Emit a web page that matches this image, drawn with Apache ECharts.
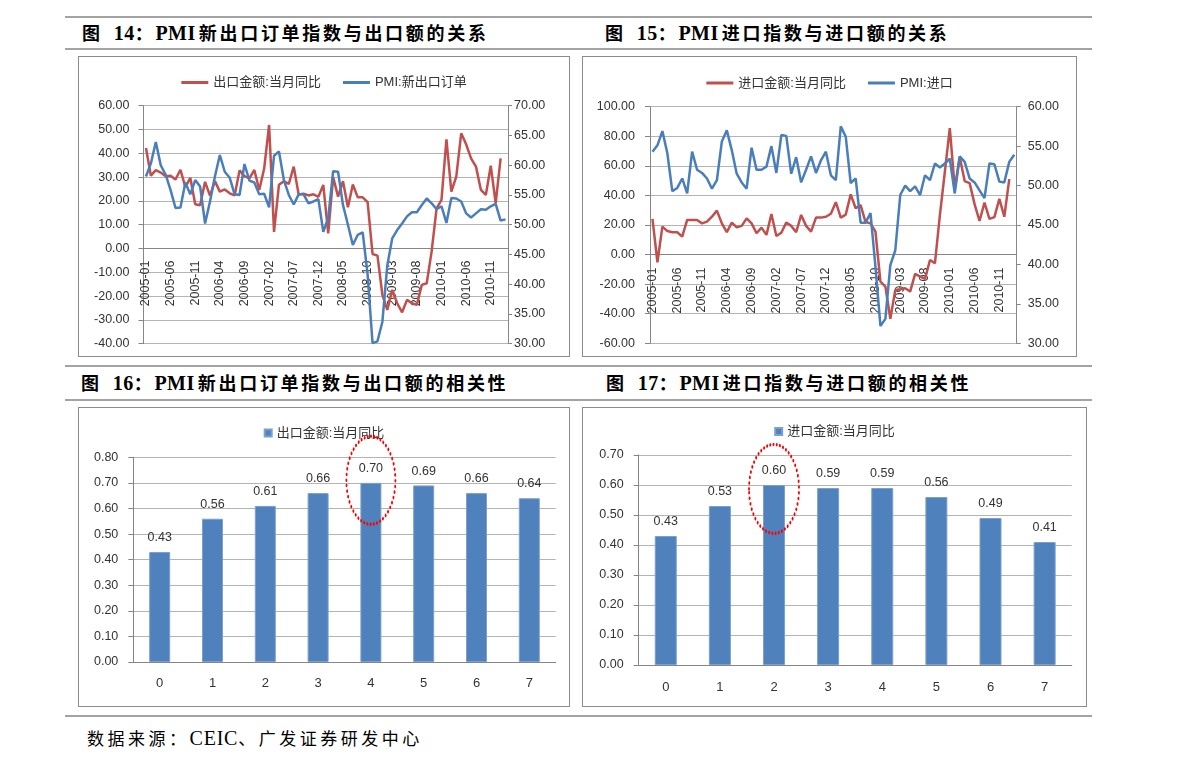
<!DOCTYPE html>
<html>
<head>
<meta charset="utf-8">
<title>PMI与进出口</title>
<script src="https://cdn.jsdelivr.net/npm/echarts@6.0.0/dist/echarts.min.js"></script>
<style>
body{margin:0;background:#fff;width:1191px;height:766px;position:relative;overflow:hidden;}
.hr{position:absolute;left:65px;width:1027px;height:2px;background:#a3a3a3;}
.ttl{position:absolute;font-weight:bold;font-family:'Liberation Serif','Noto Sans CJK SC',serif;line-height:22px;color:#000;white-space:nowrap;}
.ttl .cn{font-size:18px;letter-spacing:2.7px;}
.ttl .lt{font-size:20px;letter-spacing:0.5px;}
.ttl .gap{margin-left:3px;}
.src{position:absolute;left:87px;top:727px;font-family:'Liberation Serif','Noto Sans CJK SC',serif;line-height:22px;color:#000;white-space:nowrap;}
.src .cn{font-size:17px;letter-spacing:3.5px;}
.src .lt{font-size:20px;letter-spacing:0.8px;}
.box{position:absolute;border:1px solid #8c8c8c;}
</style>
</head>
<body>
<div class="hr" style="top:16px"></div>
<div class="ttl" style="left:82px;top:22px"><span class="cn">图</span><span class="lt">&nbsp; 14</span><span class="cn">：</span><span class="lt">PMI</span><span class="cn gap">新出口订单指数与出口额的关系</span></div>
<div class="ttl" style="left:605px;top:22px"><span class="cn">图</span><span class="lt">&nbsp; 15</span><span class="cn">：</span><span class="lt">PMI</span><span class="cn gap">进口指数与进口额的关系</span></div>
<div class="hr" style="top:48px"></div>
<div id="c14" class="box" style="left:78px;top:56px;width:490px;height:299px"></div>
<div id="c15" class="box" style="left:582px;top:56px;width:493px;height:299px"></div>
<div class="hr" style="top:365px"></div>
<div class="ttl" style="left:81px;top:372px"><span class="cn">图</span><span class="lt">&nbsp; 16</span><span class="cn">：</span><span class="lt">PMI</span><span class="cn gap">新出口订单指数与出口额的相关性</span></div>
<div class="ttl" style="left:606px;top:372px"><span class="cn">图</span><span class="lt">&nbsp; 17</span><span class="cn">：</span><span class="lt">PMI</span><span class="cn gap">进口指数与进口额的相关性</span></div>
<div class="hr" style="top:399px"></div>
<div id="c16" class="box" style="left:78px;top:407px;width:490px;height:298px"></div>
<div id="c17" class="box" style="left:582px;top:407px;width:503px;height:298px"></div>
<div class="hr" style="top:715px"></div>
<div class="src"><span class="cn">数据来源：</span><span class="lt">CEIC</span><span class="cn">、广发证券研发中心</span></div>

<script>
var FONT = "'Liberation Sans','Noto Sans CJK SC',sans-serif";

// 月份 2005-01 ~ 2011-02
var months = [];
for (var y = 2005; y <= 2011; y++) {
	for (var m = 1; m <= 12; m++) {
		if (y == 2011 && m > 2) break;
		months.push(y + '-' + (m < 10 ? '0' + m : m));
	}
}

// 图14 出口金额当月同比(左轴) / PMI新出口订单(右轴)
var exportYoy = [42.2, 30.6, 32.9, 31.9, 30.4, 30.6, 29.0, 33.1, 25.8, 29.7, 18.6, 18.2,
	28.0, 22.2, 28.3, 23.9, 24.8, 23.2, 22.3, 32.8, 30.4, 29.5, 33.0, 24.6,
	33.6, 51.9, 7.0, 26.8, 28.3, 27.1, 34.4, 22.7, 23.0, 22.3, 22.8, 21.7,
	26.7, 6.4, 30.0, 21.8, 28.3, 17.3, 26.9, 21.5, 21.5, 19.5, -2.3, -3.0,
	-19.5, -25.8, -17.4, -23.0, -26.8, -21.6, -23.0, -23.7, -15.3, -14.6, -1.2, 16.9,
	20.4, 45.9, 23.9, 30.2, 48.4, 43.8, 37.9, 34.4, 24.6, 22.5, 34.8, 19.0,
	37.9, null];
var pmiNewExport = [58.1, 60.3, 63.9, 60.0, 58.4, 55.8, 52.8, 52.9, 57.1, 55.1, 57.5, 56.4,
	50.2, 53.9, 58.1, 61.7, 58.9, 57.9, 55.1, 55.0, 60.2, 57.4, 57.1, 55.1,
	55.2, 52.9, 61.6, 62.3, 57.5, 55.0, 53.4, 55.1, 55.1, 53.6, 53.9, 54.3,
	48.8, 51.1, 59.0, 58.9, 53.3, 50.0, 46.6, 48.3, 48.7, 41.6, 30.1, 30.4,
	33.7, 43.2, 47.7, 49.1, 50.2, 51.4, 52.1, 52.1, 53.3, 54.4, 53.6, 52.6,
	53.1, 50.3, 54.5, 54.4, 53.9, 51.9, 51.2, 51.9, 52.6, 52.5, 53.1, 53.5,
	50.7, 50.9];

// 图15 进口金额当月同比(左轴) / PMI进口(右轴)
var importYoy = [24.1, -5.2, 18.9, 15.9, 15.1, 15.1, 12.1, 23.4, 23.4, 23.4, 21.1, 22.3,
	25.6, 29.7, 21.1, 15.1, 21.6, 18.5, 19.4, 24.5, 21.1, 14.4, 18.2, 13.3,
	27.4, 12.6, 14.8, 21.6, 19.4, 15.1, 26.8, 19.4, 15.5, 25.0, 25.0, 25.6,
	27.6, 35.4, 25.0, 27.0, 40.7, 31.3, 33.5, 22.0, 21.1, 15.5, -18.3, -21.6,
	-43.5, -23.9, -23.4, -22.8, -25.0, -13.1, -14.9, -16.5, -3.7, -5.9, 26.7, 55.9,
	85.5, 44.7, 66.0, 49.7, 48.3, 34.1, 22.7, 35.2, 24.1, 25.3, 37.7, 25.6,
	51.0, null];
var pmiImport = [54.3, 55.1, 56.9, 54.1, 49.3, 49.7, 50.9, 49.0, 54.3, 52.0, 51.6, 50.9,
	49.6, 50.7, 55.6, 57.0, 54.5, 51.5, 50.4, 49.6, 54.8, 52.0, 52.0, 52.4,
	55.0, 51.6, 56.4, 56.3, 51.5, 53.6, 50.4, 52.0, 53.7, 51.6, 53.2, 54.3,
	51.3, 50.7, 57.5, 56.2, 50.3, 50.9, 45.3, 45.3, 46.5, 39.7, 32.2, 33.1,
	39.9, 41.8, 48.8, 50.0, 49.3, 49.9, 48.8, 51.3, 50.7, 52.8, 52.3, 52.8,
	53.4, 49.0, 53.7, 53.0, 50.9, 50.4, 49.4, 48.4, 52.8, 52.7, 50.5, 50.4,
	53.0, 53.9];

// 图16/17 相关系数，滞后月数 0~7
var lags = ['0', '1', '2', '3', '4', '5', '6', '7'];
var corrExport = [0.43, 0.56, 0.61, 0.66, 0.70, 0.69, 0.66, 0.64];
var corrImport = [0.43, 0.53, 0.60, 0.59, 0.59, 0.56, 0.49, 0.41];

var AXIS = '#868686', GRID = '#b4b4b4', TXT = '#333';
var ELLIPSE = 'path://M0,1C0,0.448 0.448,0 1,0C1.552,0 2,0.448 2,1C2,1.552 1.552,2 1,2C0.448,2 0,1.552 0,1Z';

function fmt2(v){ return v.toFixed(2); }

function lineAll(id, names, redData, blueData, yl, yr, lay){
	var chart = echarts.init(document.getElementById(id));
	// x轴放在左轴0的位置（用offset，onZero时标签不显示）
	var zeroOffset = -lay.height * (0 - yl[0]) / (yl[1] - yl[0]);
	var option = {
		animation: false,
		textStyle: {fontFamily: FONT},
		legend: {top: lay.legendTop, left: 'center', icon: 'rect', itemWidth: 27, itemHeight: 3, itemGap: 22,
			textStyle: {color: TXT, fontSize: 13}, data: names},
		grid: {left: lay.left, top: lay.top, width: lay.width, height: lay.height, outerBoundsMode: 'none'},
		xAxis: {
			type: 'category', data: months, boundaryGap: true,
			position: 'bottom', offset: zeroOffset,
			axisLine: {onZero: false, lineStyle: {color: AXIS}},
			axisTick: {interval: 4, length: 5, lineStyle: {color: AXIS}},
			axisLabel: {interval: 4, rotate: 90, margin: lay.xMargin, color: TXT, fontSize: 12.5, hideOverlap: false},
			splitLine: {show: false}
		},
		yAxis: [{
			type: 'value', min: yl[0], max: yl[1], interval: yl[2],
			axisLine: {show: true, lineStyle: {color: AXIS}},
			axisTick: {show: true, length: 5, lineStyle: {color: AXIS}},
			axisLabel: {formatter: fmt2, margin: lay.lMargin, color: TXT, fontSize: 12.5},
			splitLine: {show: true, lineStyle: {color: GRID}}
		}, {
			type: 'value', position: 'right', min: yr[0], max: yr[1], interval: yr[2],
			axisLine: {show: true, lineStyle: {color: AXIS}},
			axisTick: {show: true, length: 4, lineStyle: {color: AXIS}},
			axisLabel: {formatter: fmt2, margin: lay.rMargin, color: TXT, fontSize: 12.5},
			splitLine: {show: false}
		}],
		series: [{
			name: names[0], type: 'line', yAxisIndex: 0, data: redData, symbol: 'none',
			lineStyle: {width: 2.5, color: '#c0504d'}, itemStyle: {color: '#c0504d'}
		}, {
			name: names[1], type: 'line', yAxisIndex: 1, data: blueData, symbol: 'none',
			lineStyle: {width: 2.5, color: '#4a7ebb'}, itemStyle: {color: '#4a7ebb'}
		}]
	};
	chart.setOption(option);
}

function barAll(id, name, datas, ymax, mark, lay){
	var chart = echarts.init(document.getElementById(id));
	var option = {
		animation: false,
		textStyle: {fontFamily: FONT},
		legend: {top: lay.legendTop, left: 'center', icon: 'rect', itemWidth: 7, itemHeight: 7,
			textStyle: {color: TXT, fontSize: 13}, data: [name]},
		grid: {left: lay.left, top: lay.top, width: lay.width, height: lay.height, outerBoundsMode: 'none'},
		xAxis: {
			type: 'category', data: lags,
			axisLine: {lineStyle: {color: AXIS}},
			axisTick: {length: 5, lineStyle: {color: AXIS}},
			axisLabel: {margin: lay.xMargin, color: TXT, fontSize: 13}
		},
		yAxis: {
			type: 'value', min: 0, max: ymax, interval: 0.1,
			axisLine: {show: true, lineStyle: {color: AXIS}},
			axisTick: {show: true, length: 5, lineStyle: {color: AXIS}},
			axisLabel: {formatter: fmt2, margin: 15, color: TXT, fontSize: 12.5},
			splitLine: {show: true, lineStyle: {color: GRID}}
		},
		series: [{
			name: name, type: 'bar', data: datas, barWidth: lay.barWidth,
			itemStyle: {color: '#4f81bd', borderColor: '#7c9fcf', borderWidth: 1},
			label: {show: true, position: 'top', distance: 8, color: TXT, fontSize: 12.5,
				formatter: function(p){ return p.value.toFixed(2); }},
			markPoint: {
				silent: true, symbol: ELLIPSE, symbolSize: mark.size,
				label: {show: false},
				itemStyle: {color: 'rgba(0,0,0,0)', borderColor: '#ff0000', borderWidth: 2.6,
					borderType: [0.1, 4.2], borderCap: 'round'},
				data: [{coord: mark.coord}]
			}
		}]
	};
	chart.setOption(option);
}

lineAll('c14', ['出口金额:当月同比', 'PMI:新出口订单'], exportYoy, pmiNewExport,
	[-40, 60, 10], [30, 70, 5],
	{legendTop: 14, left: 64.5, top: 48.7, width: 364.5, height: 238, lMargin: 14, rMargin: 6, xMargin: 12});

lineAll('c15', ['进口金额:当月同比', 'PMI:进口'], importYoy, pmiImport,
	[-60, 100, 20], [30, 60, 5],
	{legendTop: 14.5, left: 67, top: 49.7, width: 366.7, height: 236.6, lMargin: 15, rMargin: 11, xMargin: 13});

barAll('c16', '出口金额:当月同比', corrExport, 0.8, {coord: [4, 0.71], size: [49, 88]},
	{legendTop: 13.5, left: 54.3, top: 49.3, width: 422.4, height: 204.7, xMargin: 15, barWidth: 21});

barAll('c17', '进口金额:当月同比', corrImport, 0.7, {coord: [2, 0.587], size: [50, 89]},
	{legendTop: 12, left: 55.7, top: 47, width: 433, height: 210, xMargin: 16, barWidth: 22});
</script>
</body>
</html>
